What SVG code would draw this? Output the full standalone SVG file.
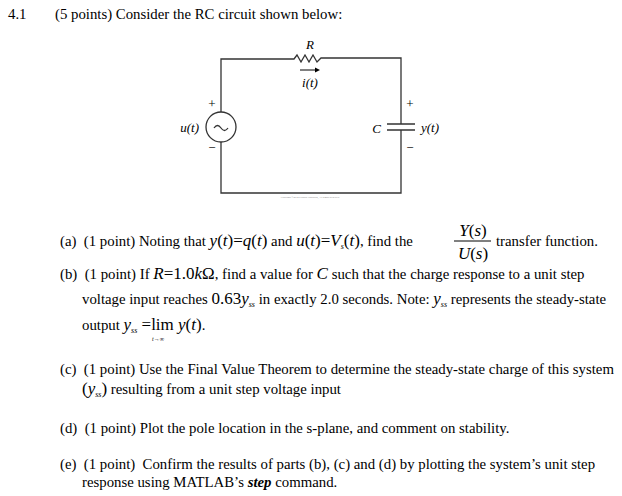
<svg xmlns="http://www.w3.org/2000/svg" width="622" height="496" viewBox="0 0 622 496">
<style>
text{font-family:"Liberation Serif",serif;font-size:14.8px;fill:#000}
.m{font-style:italic;font-size:17px}
.p{font-size:17px}
.sub{font-style:italic;font-size:8px}
.s{font-size:13px}
.w{fill:none;stroke:#333;stroke-width:1.3}
</style>
<rect width="622" height="496" fill="#fff"/>
<text x="8" y="19">4.1</text>
<text x="55" y="19">(5 points) Consider the RC circuit shown below:</text>
<g id="circuit">
<path class="w" d="M221,112 V59 H294 l3,-4 l4,7 l4,-7 l4,7 l4,-7 l4,7 l4,-4 H401 V124 M401,130 V193 H221 V142"/>
<path class="w" d="M387,124 H415 M387,130 H415"/>
<circle class="w" cx="221" cy="127" r="15"/>
<path class="w" d="M214,128 q3.5,-5 7,0 t7,0"/>
<path d="M300,70 H316" stroke="#000" stroke-width="1"/>
<path d="M320,70 l-5,-2.5 v5z"/>
<text x="310" y="49" class="s" font-style="italic" text-anchor="middle">R</text>
<text x="310" y="87" class="s" font-style="italic" text-anchor="middle">i(t)</text>
<text x="212" y="108" class="s" text-anchor="middle">+</text>
<text x="212" y="152" class="s" text-anchor="middle">−</text>
<text x="410" y="108" class="s" text-anchor="middle">+</text>
<text x="410" y="152" class="s" text-anchor="middle">−</text>
<text x="199" y="132" class="s" font-style="italic" text-anchor="end">u(t)</text>
<text x="381" y="133" class="s" font-style="italic" text-anchor="end">C</text>
<text x="421" y="132" class="s" font-style="italic">y(t)</text>
<text x="310" y="198" style="font-size:2.5px;fill:#777" text-anchor="middle">Copyright ©2014 Pearson Education, All Rights Reserved</text>
</g>
<text x="60" y="246" xml:space="preserve">(a)  (1 point) Noting that <tspan class="m">y</tspan><tspan class="p">(</tspan><tspan class="m">t</tspan><tspan class="p">)=</tspan><tspan class="m">q</tspan><tspan class="p">(</tspan><tspan class="m">t</tspan><tspan class="p">)</tspan> and <tspan class="m">u</tspan><tspan class="p">(</tspan><tspan class="m">t</tspan><tspan class="p">)=</tspan><tspan class="m">V</tspan><tspan class="sub" dy="3">s</tspan><tspan class="p" dy="-3">(</tspan><tspan class="m">t</tspan><tspan class="p">)</tspan>, find the</text>
<text x="473" y="236" text-anchor="middle"><tspan class="m">Y</tspan><tspan class="p">(</tspan><tspan class="m">s</tspan><tspan class="p">)</tspan></text>
<path d="M454,241 H491" stroke="#000" stroke-width="1"/>
<text x="473" y="259" text-anchor="middle"><tspan class="m">U</tspan><tspan class="p">(</tspan><tspan class="m">s</tspan><tspan class="p">)</tspan></text>
<text x="496" y="246">transfer function.</text>
<text x="60" y="279" xml:space="preserve">(b)  (1 point) If <tspan class="m">R</tspan><tspan class="p">=1.0</tspan><tspan class="m">k</tspan><tspan class="p">Ω</tspan>, find a value for <tspan class="m">C</tspan> such that the charge response to a unit step</text>
<text x="82" y="304" xml:space="preserve">voltage input reaches <tspan class="p">0.63</tspan><tspan class="m">y</tspan><tspan class="sub" dy="3">ss</tspan><tspan dy="-3"> in exactly 2.0 seconds. Note: </tspan><tspan class="m">y</tspan><tspan class="sub" dy="3">ss</tspan><tspan dy="-3"> represents the steady-state</tspan></text>
<text x="82" y="330" xml:space="preserve">output <tspan class="m">y</tspan><tspan class="sub" dy="3">ss</tspan><tspan class="p" dy="-3"> =lim </tspan><tspan class="m">y</tspan><tspan class="p">(</tspan><tspan class="m">t</tspan><tspan class="p">)</tspan>.</text>
<text x="152" y="341" style="font-size:6px;font-style:italic">t→∞</text>
<text x="60" y="374" xml:space="preserve">(c)  (1 point) Use the Final Value Theorem to determine the steady-state charge of this system</text>
<text x="82" y="394"><tspan class="p">(</tspan><tspan class="m">y</tspan><tspan class="sub" dy="3">ss</tspan><tspan class="p" dy="-3">)</tspan> resulting from a unit step voltage input</text>
<text x="60" y="433" xml:space="preserve">(d)  (1 point) Plot the pole location in the s-plane, and comment on stability.</text>
<text x="60" y="469" xml:space="preserve">(e)  (1 point)  Confirm the results of parts (b), (c) and (d) by plotting the system’s unit step</text>
<text x="82" y="487">response using MATLAB’s <tspan font-weight="bold" font-style="italic">step</tspan> command.</text>
</svg>
